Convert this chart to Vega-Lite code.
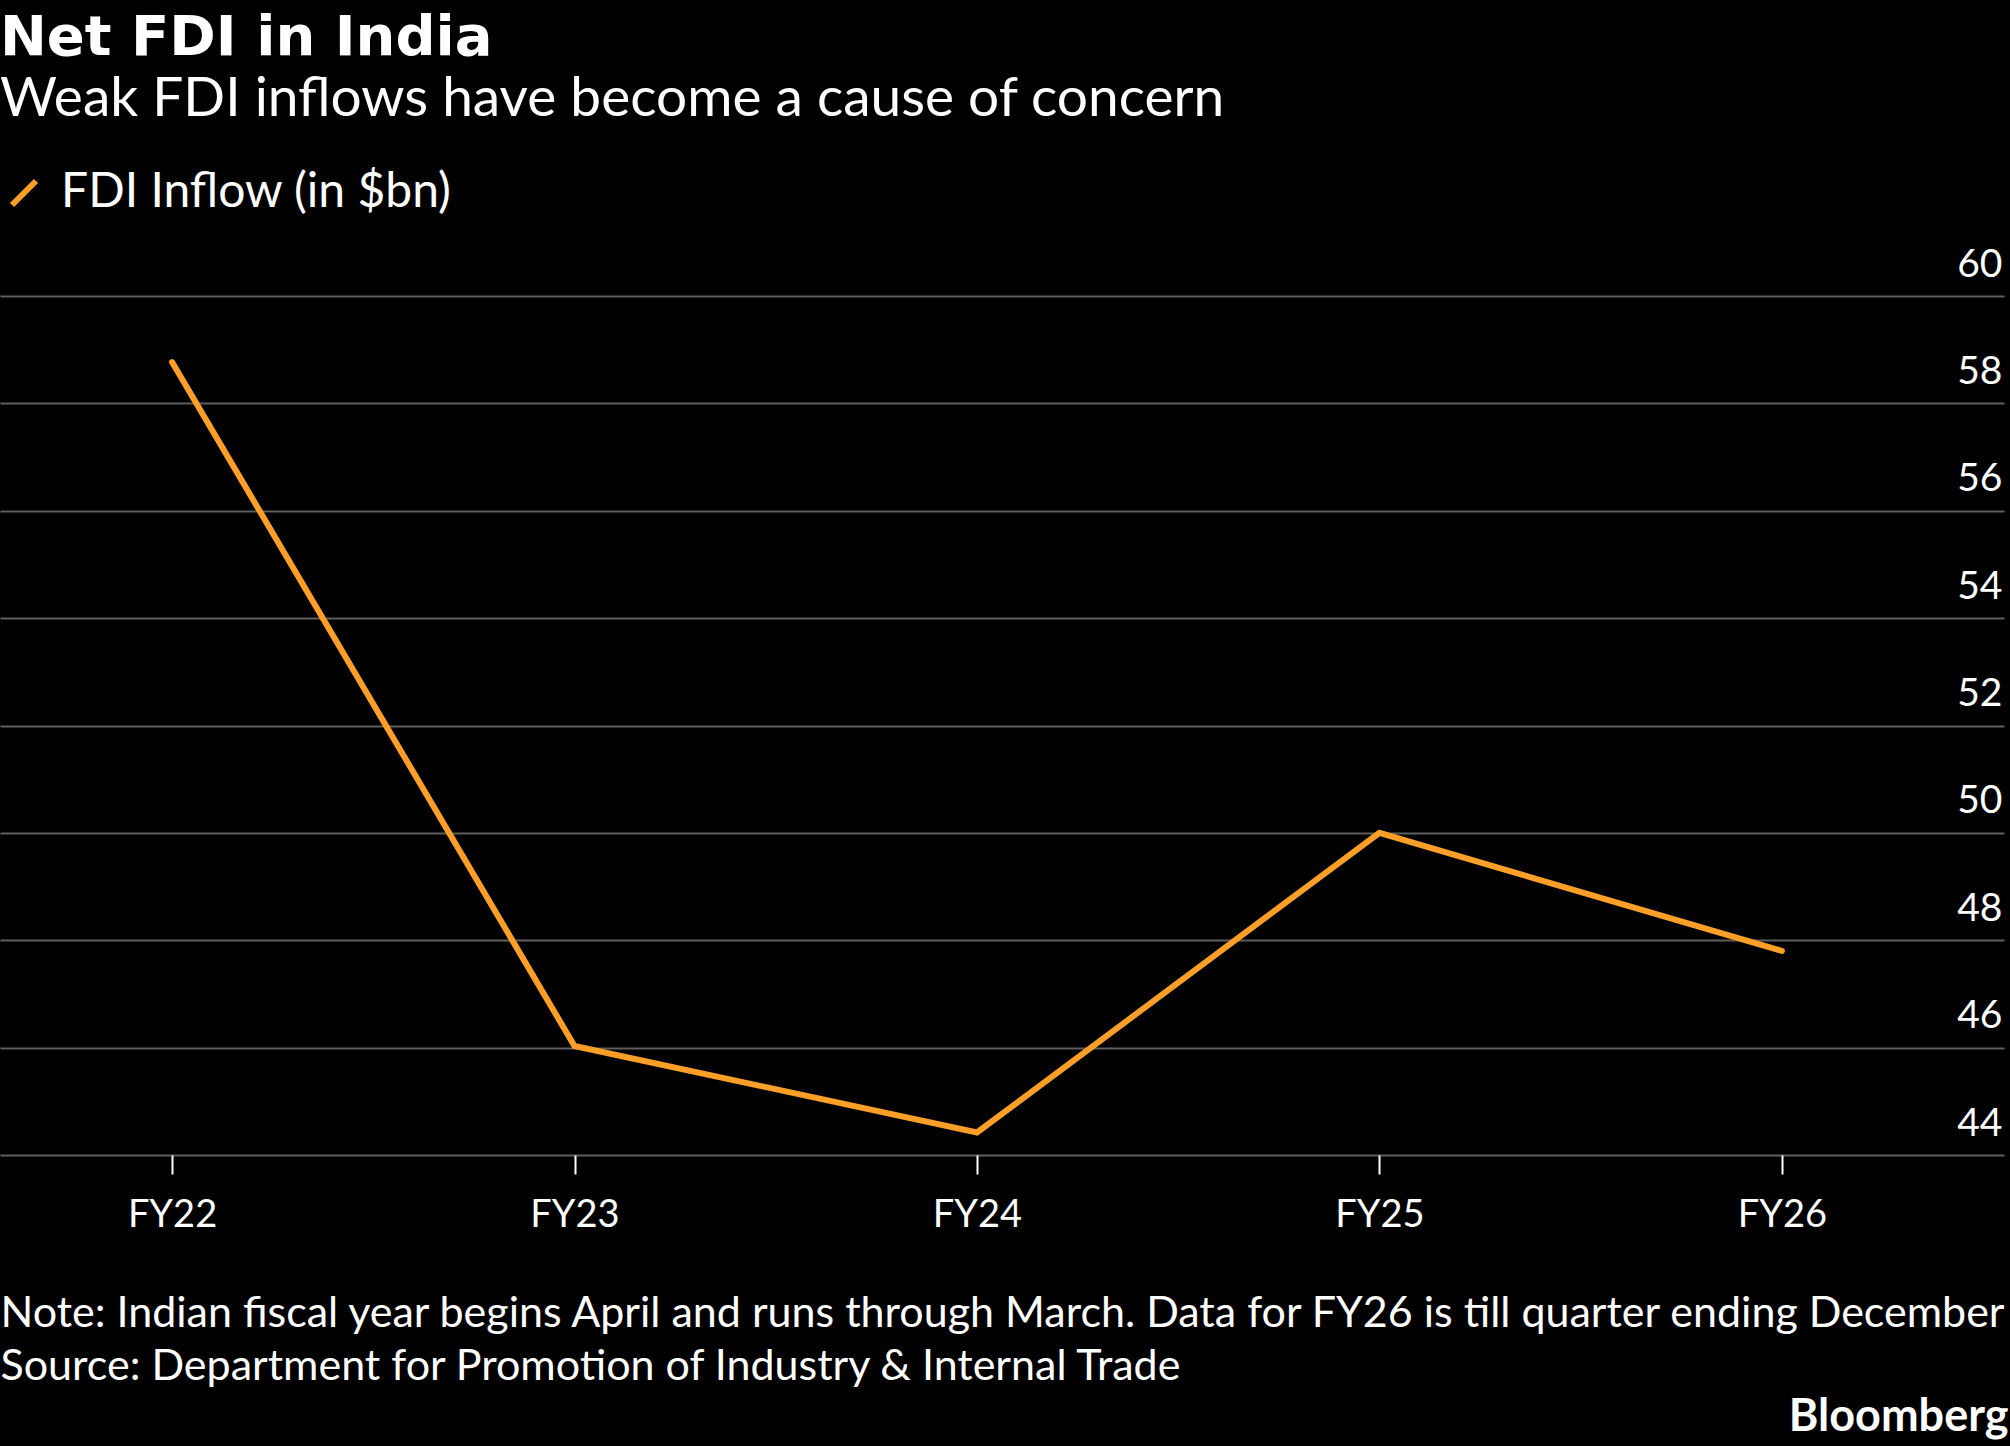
{
  "$schema": "https://vega.github.io/schema/vega-lite/v6.json",
  "width": 2004,
  "height": 859,
  "autosize": {"type": "none"},
  "padding": {"left": 0, "top": 296, "right": 6, "bottom": 291},
  "background": "#000000",
  "title": {
    "text": "Net FDI in India",
    "subtitle": "Weak FDI inflows have become a cause of concern",
    "anchor": "start",
    "frame": "group",
    "font": "DejaVu Sans",
    "fontSize": 56,
    "fontWeight": "bold",
    "color": "#ffffff",
    "subtitleFont": "Lato",
    "subtitleFontSize": 55,
    "subtitleColor": "#ffffff",
    "subtitlePadding": 6,
    "offset": 41
  },
  "data": {
    "values": [
      {"year": "FY22", "value": 58.77, "series": "FDI Inflow (in $bn)"},
      {"year": "FY23", "value": 46.03, "series": "FDI Inflow (in $bn)"},
      {"year": "FY24", "value": 44.42, "series": "FDI Inflow (in $bn)"},
      {"year": "FY25", "value": 50.0, "series": "FDI Inflow (in $bn)"},
      {"year": "FY26", "value": 47.8, "series": "FDI Inflow (in $bn)"}
    ]
  },
  "mark": {"type": "line", "strokeWidth": 6, "strokeCap": "round", "strokeJoin": "miter"},
  "encoding": {
    "x": {
      "field": "year",
      "type": "ordinal",
      "scale": {"type": "point", "padding": 0.4896, "align": 0.4365},
      "axis": {
        "labelAngle": 0,
        "domain": false,
        "ticks": true,
        "tickColor": "#ffffff",
        "tickWidth": 2,
        "tickSize": 19,
        "labelFont": "Lato",
        "labelFontSize": 38,
        "labelColor": "#ffffff",
        "labelPadding": 22,
        "title": [
          "Note: Indian fiscal year begins April and runs through March. Data for FY26 is till quarter ending December",
          "Source: Department for Promotion of Industry & Internal Trade"
        ],
        "titleFont": "Lato",
        "titleFontSize": 43,
        "titleFontWeight": "normal",
        "titleColor": "#ffffff",
        "titleAnchor": "start",
        "titleAlign": "left",
        "titleBaseline": "alphabetic",
        "titleX": 0,
        "titleY": 171,
        "titleLineHeight": 53,
        "titleLimit": 0
      }
    },
    "y": {
      "field": "value",
      "type": "quantitative",
      "scale": {"domain": [44, 60], "nice": false, "zero": false},
      "axis": {
        "orient": "right",
        "values": [44, 46, 48, 50, 52, 54, 56, 58, 60],
        "grid": true,
        "gridColor": "#5e5e5e",
        "gridWidth": 2,
        "ticks": false,
        "domain": false,
        "labelAlign": "right",
        "labelBaseline": "alphabetic",
        "labelPadding": -2,
        "labelOffset": -20,
        "labelFont": "Lato",
        "labelFontSize": 39,
        "labelColor": "#ffffff",
        "labelOverlap": false,
        "labelBound": false,
        "title": "Bloomberg",
        "titleAngle": 0,
        "titleAlign": "right",
        "titleBaseline": "alphabetic",
        "titleX": 4,
        "titleY": 1134,
        "titleFont": "Lato",
        "titleFontSize": 45,
        "titleFontWeight": "bold",
        "titleColor": "#ffffff"
      }
    },
    "color": {
      "field": "series",
      "type": "nominal",
      "scale": {"range": ["#fb9f29"]},
      "legend": {
        "title": null,
        "orient": "none",
        "legendX": 0,
        "legendY": -127,
        "symbolType": "M-1,1L1,-1",
        "symbolSize": 576,
        "symbolStrokeWidth": 6,
        "labelFont": "Lato",
        "labelFontSize": 48,
        "labelColor": "#ffffff",
        "labelOffset": 13,
        "labelLimit": 0,
        "padding": 0
      }
    }
  },
  "config": {
    "view": {"stroke": null}
  }
}
